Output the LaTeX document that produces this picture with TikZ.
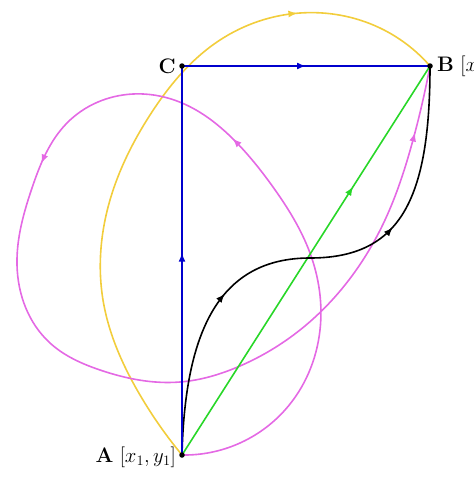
\documentclass[tikz,border=0pt]{standalone}
\usetikzlibrary{arrows.meta,decorations.markings,hobby}
\definecolor{cyell}{RGB}{242,205,60}
\definecolor{cmag}{RGB}{228,105,228}
\definecolor{cgreen}{RGB}{40,215,40}
\definecolor{cblue}{RGB}{0,0,205}
\tikzset{
  curve/.style={line width=1.6pt},
  midarrow/.style={postaction={decorate},decoration={markings,
     mark=at position #1 with {\arrow{Latex[length=9pt,width=7pt]}}}},
  threearrows/.style n args={3}{postaction={decorate},decoration={markings,
     mark=at position #1 with {\arrow{Latex[length=9pt,width=7pt]}},
     mark=at position #2 with {\arrow{Latex[length=9pt,width=7pt]}},
     mark=at position #3 with {\arrow{Latex[length=9pt,width=7pt]}}}},
  pt/.style={circle,fill=black,inner sep=0pt,minimum size=5.5pt},
  lbl/.style={font=\fontsize{21}{24}\selectfont,inner sep=0pt}
}
\begin{document}
\begin{tikzpicture}[x=1pt,y=-1pt]
\useasboundingbox (0,0) rectangle (474,504);
\coordinate (A) at (182,455);
\coordinate (B) at (430,66);
\coordinate (C) at (182,66);
\coordinate (M) at (310,258);
% yellow
\draw[curve,cyell,midarrow=0.79,use Hobby shortcut] (A) .. (140,395) .. (103,300) .. (110,200) .. (150,115) .. (220,40) .. (300,13) .. (380,28) .. (B);
% magenta
\draw[curve,cmag,threearrows={0.297}{0.462}{0.952},use Hobby shortcut] (A) .. (285,410) .. (320,330) .. (310,253) .. (273,187) .. (237,143) .. (182,103) .. (133,94) .. (67,123) .. (32,188) .. (17,265) .. (50,343) .. (100,370) .. (180,382) .. (240,366) .. (300,330) .. (385,220) .. (413,140) .. (B);
% green
\draw[curve,cgreen,midarrow=0.69] (A) -- (B);
% black
\draw[curve,black,midarrow=0.64] (A) .. controls (185,330) and (220,258) .. (M);
\draw[curve,black,midarrow=0.35] (M) .. controls (400,258) and (430,200) .. (B);
% blue
\draw[curve,cblue,midarrow=0.52] (A) -- (C);
\draw[curve,cblue,midarrow=0.5] (C) -- (B);
% points
\node[pt] (pA) at (A) {};
\node[pt] (pB) at (B) {};
\node[pt] (pC) at (C) {};
\node[lbl,anchor=east] (lA) at (176,457) {\textbf{A} $[x_1,y_1]$};
\node[lbl,anchor=east] (lC) at (176,66) {\textbf{C}};
\node[lbl,anchor=west] (lB) at (437,66) {\textbf{B} $[x_2,y_2]$};
\end{tikzpicture}
\end{document}
